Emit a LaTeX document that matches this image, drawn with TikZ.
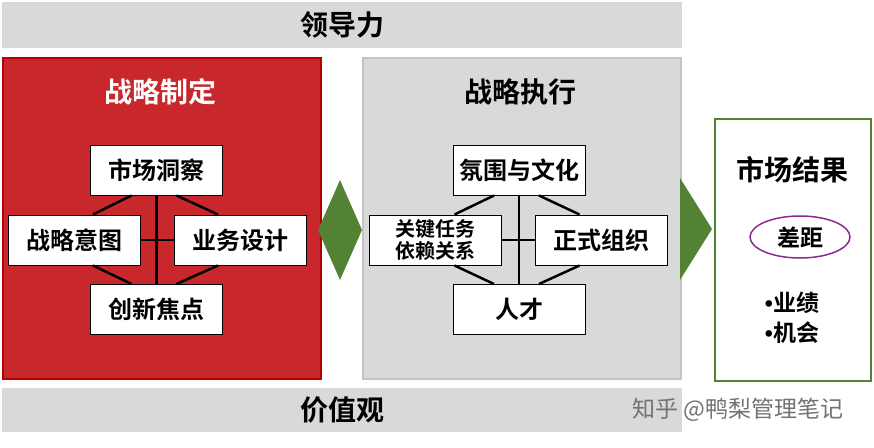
\documentclass[tikz,border=0pt]{standalone}
\usepackage{fontspec}
\setmainfont{Noto Sans CJK SC}[BoldFont={Noto Sans CJK SC Bold}]
\newfontfamily\latinb{Liberation Sans}
\usetikzlibrary{shapes.geometric}
\definecolor{bar}{HTML}{D9D9D9}
\definecolor{redp}{HTML}{C8282C}
\definecolor{grn}{HTML}{548235}
\definecolor{purp}{HTML}{8E2A8E}
\begin{document}
\begin{tikzpicture}[x=1pt,y=-1pt,
  panel/.style={draw=#1,line width=1.5pt},
  wbox/.style={draw=black,fill=white,line width=1pt,minimum width=132pt,minimum height=50pt,font=\bfseries\fontsize{24}{26}\selectfont,inner sep=0pt},
  ttl/.style={font=\bfseries\fontsize{28}{30}\selectfont},
  link/.style={line width=2.5pt,black}]
\useasboundingbox (0,0) rectangle (874,447);
\fill[white] (0,0) rectangle (874,447);
% bars
\node[fill=bar,minimum width=680pt,minimum height=46pt,inner sep=0pt,anchor=north west] (lead) at (2,2) {};
\node[ttl] at (lead.center) {领导力};
\node[fill=bar,minimum width=680pt,minimum height=44pt,inner sep=0pt,anchor=north west] (val) at (2,388) {};
\node[ttl] at (val.center) {价值观};
% panels
\node[panel=red!70!black,fill=redp,minimum width=318pt,minimum height=321pt,inner sep=0pt,anchor=north west] (lp) at (2,57) {};
\node[ttl,white] at (160,92) {战略制定};
\node[panel=bar!90!black,fill=bar,minimum width=318pt,minimum height=321pt,inner sep=0pt,anchor=north west] (mp) at (362,57) {};
\node[ttl] at (520,92) {战略执行};
\node[panel=grn,fill=white,minimum width=156pt,minimum height=262pt,inner sep=0pt,anchor=north west] (rp) at (714,118) {};
\node[ttl] at (792,170) {市场结果};
\node[draw=purp,line width=1.5pt,ellipse,minimum width=100pt,minimum height=42pt,inner sep=0pt,font=\bfseries\fontsize{23}{25}\selectfont] (gap) at (800,237) {差距};
\node[font=\bfseries\fontsize{23}{25}\selectfont] (b1) at (792,303) {{\latinb\textbullet}业绩};
\node[font=\bfseries\fontsize{23}{25}\selectfont] (b2) at (792,333) {{\latinb\textbullet}机会};
% arrows
\fill[grn] (318,230) -- (340,180) -- (362,230) -- (340,280) -- cycle;
\fill[grn] (680,178) -- (712,229) -- (680,280) -- cycle;
% left structure
\node[wbox] (a1) at (156.5,170) {市场洞察};
\node[wbox] (a2) at (74,240) {战略意图};
\node[wbox] (a3) at (240,240) {业务设计};
\node[wbox] (a4) at (156.5,309.5) {创新焦点};
\draw[link] (a1.south) -- (a4.north);
\draw[link] (a2.east) -- (a3.west);
\draw[link] ([xshift=-25pt]a1.south) -- ([xshift=19pt]a2.north);
\draw[link] ([xshift=20pt]a1.south) -- ([xshift=-22pt]a3.north);
\draw[link] ([xshift=19pt]a2.south) -- ([xshift=-25pt]a4.north);
\draw[link] ([xshift=-22pt]a3.south) -- ([xshift=20pt]a4.north);
% middle structure
\node[wbox] (m1) at (519,170) {氛围与文化};
\node[wbox,font=\bfseries\fontsize{20}{22}\selectfont,align=center] (m2) at (435.5,240) {关键任务\\依赖关系};
\node[wbox] (m3) at (601.5,240) {正式组织};
\node[wbox] (m4) at (519,309.5) {人才};
\draw[link] (m1.south) -- (m4.north);
\draw[link] (m2.east) -- (m3.west);
\draw[link] ([xshift=-25pt]m1.south) -- ([xshift=19pt]m2.north);
\draw[link] ([xshift=20pt]m1.south) -- ([xshift=-22pt]m3.north);
\draw[link] ([xshift=19pt]m2.south) -- ([xshift=-25pt]m4.north);
\draw[link] ([xshift=-22pt]m3.south) -- ([xshift=20pt]m4.north);
% watermark
\node[text=black!55,font=\fontsize{23}{26}\selectfont] (wm) at (738,410) {知乎 @鸭梨管理笔记};
\end{tikzpicture}
\end{document}
